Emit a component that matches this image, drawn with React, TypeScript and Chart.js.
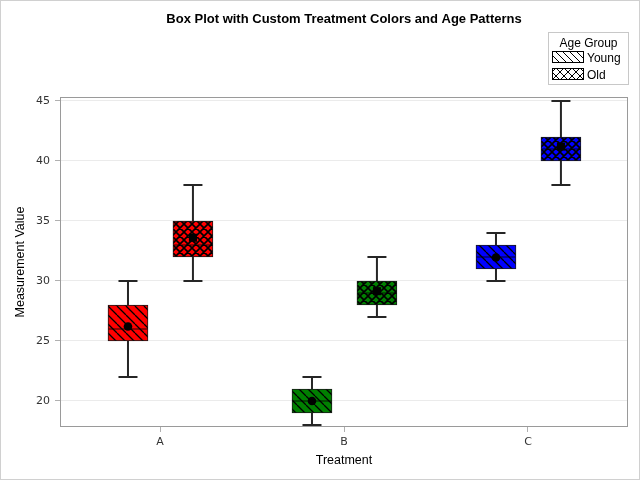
import React, { useEffect, useRef } from 'react';
import { Chart, registerables } from 'chart.js';

Chart.register(...registerables);

const treatments = ['A', 'B', 'C'];
const treatmentColors = ['#ff0000', '#008000', '#0000ff'];
const yTicks = [20, 25, 30, 35, 40, 45];

// Young group stats per treatment
const youngMin = [22, 18, 30];
const youngQ1 = [25, 19, 31];
const youngMedian = [26, 20, 32];
const youngQ3 = [28, 21, 33];
const youngMax = [30, 22, 34];
const youngMean = [26.2, 20.0, 31.95];

// Old group stats per treatment
const oldMin = [30, 27, 38];
const oldQ1 = [32, 28, 40];
const oldMedian = [33, 29, 41];
const oldQ3 = [35, 30, 42];
const oldMax = [38, 32, 45];
const oldMean = [33.6, 29.15, 41.2];

const youngOffset = -0.174;
const oldOffset = 0.179;
const capHalf = 9.5;

const makePattern = (color: string, cross: boolean, size: number, lw: number) => {
  const c = document.createElement('canvas');
  c.width = size;
  c.height = size;
  const g = c.getContext('2d')!;
  g.fillStyle = color;
  g.fillRect(0, 0, size, size);
  g.strokeStyle = '#000';
  g.lineWidth = lw;
  g.beginPath();
  for (const o of [-size, 0, size]) {
    g.moveTo(o, 0);
    g.lineTo(o + size, size);
    if (cross) {
      g.moveTo(o, size);
      g.lineTo(o + size, 0);
    }
  }
  g.stroke();
  return g.createPattern(c, 'repeat')!;
};

const groups = [
  { offset: youngOffset, min: youngMin, q1: youngQ1, med: youngMedian, q3: youngQ3, max: youngMax },
  { offset: oldOffset, min: oldMin, q1: oldQ1, med: oldMedian, q3: oldQ3, max: oldMax },
];

const boxExtras = {
  id: 'boxExtras',
  beforeDraw(chart: any) {
    const { ctx, width, height } = chart;
    ctx.save();
    ctx.fillStyle = '#fff';
    ctx.fillRect(0, 0, width, height);
    ctx.strokeStyle = '#d0d0d0';
    ctx.lineWidth = 1;
    ctx.strokeRect(0.5, 0.5, width - 1, height - 1);
    ctx.restore();
  },
  beforeDatasetsDraw(chart: any) {
    const { ctx, chartArea: a } = chart;
    ctx.save();
    ctx.strokeStyle = '#9a9a9a';
    ctx.lineWidth = 1;
    ctx.strokeRect(Math.round(a.left) + 0.5, Math.round(a.top) + 0.5, Math.round(a.right - a.left) - 1, Math.round(a.bottom - a.top) - 1);
    ctx.restore();
  },
  afterDatasetsDraw(chart: any) {
    const { ctx } = chart;
    const xs = chart.scales.x;
    const ys = chart.scales.y;
    ctx.save();
    groups.forEach((g) => {
      treatments.forEach((_, i) => {
        const x = xs.getPixelForValue(i + 1 + g.offset);
        const yMin = ys.getPixelForValue(g.min[i]);
        const yQ1 = ys.getPixelForValue(g.q1[i]);
        const yQ3 = ys.getPixelForValue(g.q3[i]);
        const yMax = ys.getPixelForValue(g.max[i]);
        ctx.strokeStyle = '#262626';
        ctx.lineWidth = 2;
        ctx.beginPath();
        ctx.moveTo(x, yQ3);
        ctx.lineTo(x, yMax);
        ctx.moveTo(x - capHalf, yMax);
        ctx.lineTo(x + capHalf, yMax);
        ctx.moveTo(x, yQ1);
        ctx.lineTo(x, yMin);
        ctx.moveTo(x - capHalf, yMin);
        ctx.lineTo(x + capHalf, yMin);
        ctx.stroke();
        const yMed = ys.getPixelForValue(g.med[i]);
        ctx.strokeStyle = 'rgba(0,0,0,0.55)';
        ctx.lineWidth = 1.5;
        ctx.beginPath();
        ctx.moveTo(x - 19.5, yMed);
        ctx.lineTo(x + 19.5, yMed);
        ctx.stroke();
      });
    });
    ctx.restore();
  },
  afterDraw(chart: any) {
    const { ctx, chartArea: a } = chart;
    ctx.save();
    ctx.fillStyle = '#000';
    ctx.font = 'bold 13px "Liberation Sans", Arial, sans-serif';
    ctx.textAlign = 'center';
    ctx.textBaseline = 'alphabetic';
    ctx.fillText('Box Plot with Custom Treatment Colors and Age Patterns', (a.left + a.right) / 2, 23);

    // legend
    ctx.strokeStyle = '#c8c8c8';
    ctx.lineWidth = 1;
    ctx.strokeRect(548.5, 32.5, 80, 52);
    ctx.font = '12px "Liberation Sans", Arial, sans-serif';
    ctx.fillStyle = '#000';
    ctx.fillText('Age Group', 588.5, 46.5);
    ctx.textAlign = 'left';
    const rows = [
      { label: 'Young', cross: false, y: 51, size: 7 },
      { label: 'Old', cross: true, y: 68, size: 8 },
    ];
    rows.forEach((r) => {
      ctx.fillStyle = makePattern('#fff', r.cross, r.size, 1);
      ctx.fillRect(552, r.y, 32, 12);
      ctx.strokeStyle = '#000';
      ctx.strokeRect(552.5, r.y + 0.5, 31, 11);
      ctx.fillStyle = '#000';
      ctx.fillText(r.label, 587, r.y + 10.5);
    });
    ctx.restore();
  },
};

export default function App() {
  const chartRef = useRef<HTMLCanvasElement>(null);
  const chartInstanceRef = useRef<Chart | null>(null);

  useEffect(() => {
    document.body.style.margin = '0';
    if (!chartRef.current) return;
    const ctx = chartRef.current.getContext('2d');
    if (!ctx) return;

    const youngPatterns = treatmentColors.map((c) => makePattern(c, false, 9, 1.3));
    const oldPatterns = treatmentColors.map((c) => makePattern(c, true, 8, 1.6));

    chartInstanceRef.current = new Chart(ctx, {
      type: 'bar',
      data: {
        datasets: [
          {
            type: 'scatter',
            label: 'Young mean',
            data: treatments.map((_, i) => ({ x: i + 1 + youngOffset, y: youngMean[i] })),
            pointStyle: 'circle',
            pointRadius: 4.3,
            backgroundColor: '#000',
            borderWidth: 0,
            order: 0,
          } as any,
          {
            type: 'scatter',
            label: 'Old mean',
            data: treatments.map((_, i) => ({ x: i + 1 + oldOffset, y: oldMean[i] })),
            pointStyle: 'rect',
            pointRadius: 5.7,
            backgroundColor: '#000',
            borderWidth: 0,
            order: 0,
          } as any,
          {
            type: 'bar',
            label: 'Young',
            data: treatments.map((_, i) => ({ x: i + 1 + youngOffset, y: [youngQ1[i], youngQ3[i]] })),
            backgroundColor: youngPatterns,
            borderColor: '#1a1a1a',
            borderWidth: 1,
            borderSkipped: false,
            barThickness: 40,
            grouped: false,
            order: 1,
          } as any,
          {
            type: 'bar',
            label: 'Old',
            data: treatments.map((_, i) => ({ x: i + 1 + oldOffset, y: [oldQ1[i], oldQ3[i]] })),
            backgroundColor: oldPatterns,
            borderColor: '#1a1a1a',
            borderWidth: 1,
            borderSkipped: false,
            barThickness: 40,
            grouped: false,
            order: 1,
          } as any,
        ],
      },
      options: {
        responsive: false,
        animation: false,
        events: [],
        layout: { padding: { top: 97, right: 12, left: 0, bottom: 0 } },
        scales: {
          x: {
            type: 'linear',
            min: 0.4565,
            max: 3.5435,
            offset: false,
            afterBuildTicks: (scale: any) => {
              scale.ticks = treatments.map((_, i) => ({ value: i + 1 }));
            },
            afterFit: (scale: any) => {
              scale.height = 53;
            },
            ticks: {
              callback: (v: any) => treatments[Math.round(Number(v)) - 1] ?? '',
              color: '#333',
              font: { family: '"DejaVu Sans", sans-serif', size: 11 },
              padding: 4,
              maxRotation: 0,
            },
            grid: { drawOnChartArea: false, offset: false, tickLength: 5, tickColor: '#b0b0b0' },
            border: { display: false },
            title: {
              display: true,
              text: 'Treatment',
              color: '#000',
              font: { family: '"Liberation Sans", Arial, sans-serif', size: 12.5 },
              padding: { top: 0, bottom: 11.5 },
            },
          },
          y: {
            type: 'linear',
            min: 17.83,
            max: 45.33,
            afterBuildTicks: (scale: any) => {
              scale.ticks = yTicks.map((v) => ({ value: v }));
            },
            afterFit: (scale: any) => {
              scale.width = 60;
            },
            ticks: {
              color: '#333',
              font: { family: '"DejaVu Sans", sans-serif', size: 11 },
              padding: 5,
            },
            grid: { color: '#ebebeb', tickLength: 5, tickColor: '#b0b0b0' },
            border: { display: false },
            title: {
              display: true,
              text: 'Measurement Value',
              color: '#000',
              font: { family: '"Liberation Sans", Arial, sans-serif', size: 12.5 },
              padding: { top: 13.5, bottom: 0 },
            },
          },
        },
        plugins: {
          legend: { display: false },
          title: { display: false },
          tooltip: { enabled: false },
        },
      },
      plugins: [boxExtras],
    });

    return () => {
      chartInstanceRef.current?.destroy();
      chartInstanceRef.current = null;
    };
  }, []);

  return (
    <div style={{ width: 640, height: 480 }}>
      <canvas ref={chartRef} width={640} height={480} aria-label="Box plot with custom treatment colors and age patterns" role="img"></canvas>
    </div>
  );
}
